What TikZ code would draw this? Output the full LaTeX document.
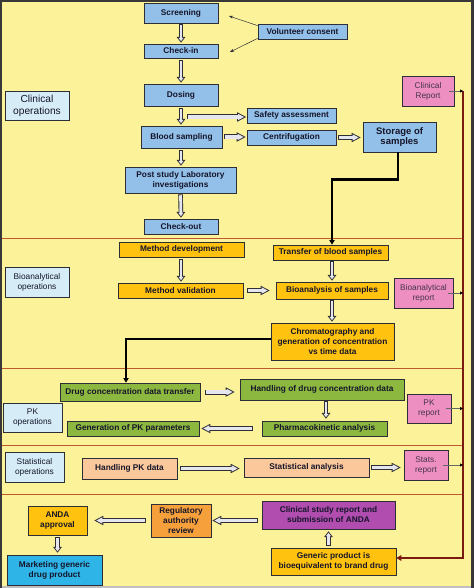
\documentclass[tikz,border=0pt]{standalone}
\usepackage{fontspec}
\setmainfont{Liberation Sans}
\usetikzlibrary{arrows.meta}
\definecolor{bg}{HTML}{FCF29A}
\definecolor{bluebox}{HTML}{93C0E8}
\definecolor{lblue}{HTML}{D6EDF8}
\definecolor{pinkbox}{HTML}{EE8FC2}
\definecolor{goldbox}{HTML}{FFC20E}
\definecolor{greenbox}{HTML}{8DB840}
\definecolor{peachbox}{HTML}{FBC89C}
\definecolor{orangebox}{HTML}{F5A03A}
\definecolor{purplebox}{HTML}{B04DAF}
\definecolor{cyanbox}{HTML}{2EB4E6}
\definecolor{redln}{HTML}{7B1A10}
\definecolor{sepline}{HTML}{BE5A30}
\definecolor{edge}{HTML}{2E2E36}
\definecolor{txt}{HTML}{15152A}
\definecolor{reptxt}{HTML}{45344A}
\definecolor{hollowfill}{HTML}{E6E6EE}
\definecolor{frame}{HTML}{383838}
\begin{document}
\begin{tikzpicture}[x=1pt,y=-1pt,
  box/.style={draw=edge, line width=0.7pt, inner sep=1pt, align=center, text=txt,
    font=\fontsize{8.3}{10}\selectfont\bfseries},
  sz/.style 2 args={minimum width=#1pt, minimum height=#2pt},
  lab/.style={draw=edge, line width=0.7pt, fill=lblue, inner sep=1pt, align=center, text=txt,
    font=\fontsize{8.3}{10}\selectfont},
  rep/.style={draw=edge, line width=0.7pt, fill=pinkbox, inner sep=1pt, align=center, text=reptxt,
    font=\fontsize{8.3}{10}\selectfont},
  hv/.style 2 args={draw=edge, line width=4.6pt,
    -{Triangle[length=5.8pt,width=9pt,line width=0pt]},
    shorten <=#1, shorten >=#2,
    postaction={draw=hollowfill, line width=2.8pt,
      -{Triangle[length=3.3pt,width=5.1pt,line width=0pt]},
      shorten <=#1+0.9pt, shorten >=#2+1.5pt}},
  hh/.style 2 args={draw=edge, line width=5pt,
    -{Triangle[length=9pt,width=9.5pt,line width=0pt]},
    shorten <=#1, shorten >=#2,
    postaction={draw=hollowfill, line width=3.2pt,
      -{Triangle[length=6.1pt,width=6.4pt,line width=0pt]},
      shorten <=#1+0.9pt, shorten >=#2+2pt}},
  thk/.style={draw=black, line width=2.4pt, line join=miter,
    -{Triangle[length=4.5pt,width=5.5pt,line width=0pt]}},
  redarr/.style={draw=redln, line width=1.8pt, line join=miter,
    -{Triangle[length=5pt,width=6pt,line width=0pt]}},
  thin/.style={draw=edge, line width=0.5pt, -{Stealth[length=4pt,width=3pt]}},
  repar/.style={draw=black!60, line width=0.5pt, -{Triangle[length=3pt,width=3pt,color=black]}},
  sep/.style={draw=sepline, line width=0.8pt}
]
\useasboundingbox (0,0) rectangle (474,588);
% background and frame
\fill[bg] (0,0) rectangle (474,588);
\fill[black!25] (0,585.5) rectangle (474,588);
\fill[frame] (0,0) rectangle (2.2,588);
\fill[frame] (0,0) rectangle (474,2.2);
\fill[frame] (470.5,0) rectangle (474,588);
% separators
\draw[sep] (2.2,238.5) -- (462,238.5);
\draw[sep] (2.2,368) -- (462,368);
\draw[sep] (2.2,445) -- (462,445);
\draw[sep] (2.2,494) -- (462,494);

% ---------- Clinical operations ----------
\node[box, fill=bluebox, sz={74}{20}] (scr) at (181,13) {Screening};
\node[box, fill=bluebox, sz={89}{15}] (vol) at (302.5,31.5) {Volunteer consent};
\node[box, fill=bluebox, sz={74}{14}] (chk) at (181,51) {Check-in};
\node[box, fill=bluebox, sz={74}{22}] (dos) at (181,95) {Dosing};
\node[box, fill=bluebox, sz={89}{15}] (saf) at (291.5,115.5) {Safety assessment};
\node[box, fill=bluebox, sz={81}{22}] (bld) at (181.5,137) {Blood sampling};
\node[box, fill=bluebox, sz={89}{15}] (cen) at (291.5,137.5) {Centrifugation};
\node[box, fill=bluebox, sz={73}{30}, font=\fontsize{9.5}{10.7}\selectfont\bfseries] (sto) at (399.5,137) {Storage of\\samples};
\node[box, fill=bluebox, sz={111}{26}] (post) at (180.5,180) {Post study Laboratory\\investigations};
\node[box, fill=bluebox, sz={74}{15}] (cko) at (181,226.5) {Check-out};
\node[lab, sz={64}{29}, font=\fontsize{10.2}{12}\selectfont] (lclin) at (37,105.5) {Clinical\\operations};
\node[rep, sz={52}{30}] (crep) at (428,91) {Clinical\\Report};

% ---------- Bioanalytical ----------
\node[box, fill=goldbox, sz={125}{15}] (mdev) at (181.5,249.5) {Method development};
\node[box, fill=goldbox, sz={125}{15}] (mval) at (180.5,290.5) {Method validation};
\node[box, fill=goldbox, sz={115}{15}] (tra) at (330.5,252.5) {Transfer of blood samples};
\node[box, fill=goldbox, sz={112}{17}] (bio) at (332,290.5) {Bioanalysis of samples};
\node[rep, sz={59}{30}] (brep) at (423.5,293) {Bioanalytical\\report};
\node[lab, sz={64}{30}] (lbio) at (37,282) {Bioanalytical\\operations};
\node[box, fill=goldbox, sz={123}{37}] (chr) at (332.5,341.5) {Chromatography and\\generation of concentration\\vs time data};

% ---------- PK ----------
\node[box, fill=greenbox, sz={140}{18}] (dct) at (130,392) {Drug concentration data transfer};
\node[box, fill=greenbox, sz={164}{21}] (hdc) at (322,389.5) {Handling of drug concentration data};
\node[rep, sz={44}{29}] (pkr) at (429,408.5) {PK\\report};
\node[lab, sz={59}{29}] (lpk) at (32.5,417.5) {PK\\operations};
\node[box, fill=greenbox, sz={132}{15}] (gen) at (133,428.5) {Generation of PK parameters};
\node[box, fill=greenbox, sz={125}{15}] (pka) at (324.5,428.5) {Pharmacokinetic analysis};

% ---------- Statistical ----------
\node[lab, sz={59}{30}] (lsta) at (34.5,467) {Statistical\\operations};
\node[box, fill=peachbox, sz={95}{21}] (hpk) at (129.5,468.5) {Handling PK data};
\node[box, fill=peachbox, sz={125}{19}] (sta) at (306.5,467.5) {Statistical analysis};
\node[rep, sz={44}{30}] (srep) at (426,465) {Stats.\\report};

% ---------- Regulatory ----------
\node[box, fill=goldbox, sz={59}{29}] (anda) at (57.5,520.5) {ANDA\\approval};
\node[box, fill=orangebox, sz={60}{33}] (reg) at (181,520.5) {Regulatory\\authority\\review};
\node[box, fill=purplebox, sz={133}{28}] (csr) at (328.5,515) {Clinical study report and\\submission of ANDA};
\node[box, fill=goldbox, sz={125}{27}] (gpr) at (333.5,561.5) {Generic product is\\bioequivalent to brand drug};
\node[box, fill=cyanbox, sz={95}{30}] (mkt) at (54.5,570) {Marketing generic\\drug product};

% ---------- coordinates ----------
\coordinate (va) at (229,16);
\coordinate (vb) at (230,52);
\coordinate (dsa) at (187,117);
\coordinate (rtop) at (463,91);

% ---------- connectors ----------
\draw[thin] ([yshift=-2pt]vol.north west) -- (va);
\draw[thin] ([yshift=1pt]vol.south west) -- (vb);

\draw[hv={1pt}{1pt}] (scr.south) -- (chk.north);
\draw[hv={2pt}{1pt}] (chk.south) -- (dos.north);
\draw[hv={2pt}{1pt}] (dos.south) -- (dos.south |- bld.north);
\draw[hv={2pt}{1pt}] (dos.south |- bld.south) -- (dos.south |- post.north);
\draw[hv={1pt}{1pt}] (post.south) -- (cko.north);
\draw[hh={0pt}{0.5pt}] (dsa) -- (dsa -| saf.west);
\draw[hh={2pt}{1pt}] (bld.east) -- (bld.east -| cen.west);
\draw[hh={2pt}{2pt}] (cen.east) -- (cen.east -| sto.west);

\draw[hv={2pt}{1pt}] ([xshift=-0.5pt]mdev.south) -- ([xshift=0.5pt]mval.north);
\draw[hv={1pt}{1pt}] (bio.north |- tra.south) -- (bio.north);
\draw[hh={4pt}{6pt}] (mval.east) -- (mval.east -| bio.west);
\draw[hv={1pt}{1pt}] (bio.south) -- (bio.south |- chr.north);

\draw[hh={5pt}{5pt}] (dct.east) -- (dct.east -| hdc.west);
\draw[hv={1pt}{2pt}] ([xshift=4pt]hdc.south) -- ([xshift=4pt]hdc.south |- pka.north);
\draw[hh={9pt}{2pt}] (pka.west) -- (pka.west -| gen.east);

\draw[hh={3pt}{4pt}] (hpk.east) -- (hpk.east -| sta.west);
\draw[hh={2pt}{3pt}] (sta.east) -- (sta.east -| srep.west);

\draw[hh={4pt}{1pt}] (csr.west |- reg.east) -- (reg.east);
\draw[hh={5pt}{7pt}] (reg.west) -- (reg.west -| anda.east);
\draw[hv={2pt}{2pt}] (anda.south) -- (anda.south |- mkt.north);
\draw[hv={2pt}{2pt}] (csr.south |- gpr.north) -- (csr.south);

\draw[thk] ([xshift=-1.5pt]sto.south) -- ++(0,27) -| ([xshift=1.5pt]tra.north);
\draw[thk] ([yshift=2.5pt]chr.west) -| ([xshift=-4pt]dct.north);

\draw[redarr] (rtop) |- ([yshift=3.5pt]gpr.east);
\draw[repar] ([xshift=-5pt]crep.east) -- (crep.east -| rtop);
\draw[repar] ([xshift=-5pt]brep.east) -- (brep.east -| rtop);
\draw[repar] ([xshift=-5pt]pkr.east) -- (pkr.east -| rtop);
\draw[repar] ([xshift=-5pt]srep.east) -- (srep.east -| rtop);
\end{tikzpicture}
\end{document}
